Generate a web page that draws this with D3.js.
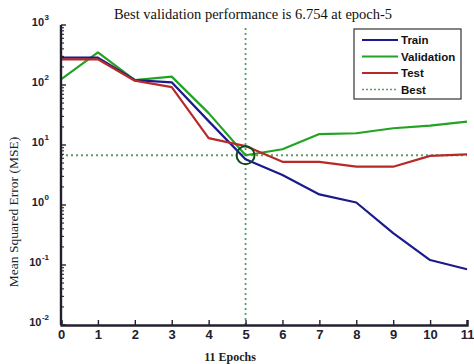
<!DOCTYPE html>
<html>
<head>
<meta charset="utf-8">
<script src="https://cdn.jsdelivr.net/npm/d3@7"></script>
<style>
  body { margin: 0; background: #fff; }
  svg { display: block; }
</style>
</head>
<body>
<svg id="chart" width="474" height="364"></svg>
<script>
"use strict";

// epochs and performance values
const epochs = [0, 1, 2, 3, 4, 5, 6, 7, 8, 9, 10, 11];
const trainMse = [285, 285, 121, 111, 25, 5.8, 3.16, 1.5, 1.1, 0.34, 0.121, 0.085];
const validMse = [124, 351, 121, 138, 34, 6.754, 8.5, 15.2, 15.7, 19, 21, 24.5];
const testMse = [268, 268, 118, 92, 13, 9.6, 5.25, 5.25, 4.35, 4.35, 6.6, 7.0];
const bestEpoch = 5;
const bestValue = 6.754;
const yTickExponents = [-2, -1, 0, 1, 2, 3];

const svg = d3.select("#chart");

// plot area
const x = d3.scaleLinear().domain([0, 11]).range([61, 467]);
const y = d3.scaleLog().domain([0.01, 1000]).range([325, 25]);

const axisColor = "#23202e";

// best marker lines (drawn first, under the curves)
svg.append("line")
    .attr("x1", x(0)).attr("x2", x(11))
    .attr("y1", y(bestValue)).attr("y2", y(bestValue))
    .attr("stroke", "#5f9a6a").attr("stroke-width", 1.8)
    .attr("stroke-dasharray", "2,3");
svg.append("line")
    .attr("x1", x(bestEpoch)).attr("x2", x(bestEpoch))
    .attr("y1", y(1000) + 3).attr("y2", y(0.01))
    .attr("stroke", "#5f9a6a").attr("stroke-width", 1.8)
    .attr("stroke-dasharray", "2,3");

// series lines
const series = [
    { name: "Train", values: trainMse, color: "#1a1a8c" },
    { name: "Validation", values: validMse, color: "#22a322" },
    { name: "Test", values: testMse, color: "#b82a2a" }
];

const line = d3.line()
    .x((d, i) => x(epochs[i]))
    .y(d => y(d));

// draw in the order validation, train, test like the picture
[series[1], series[0], series[2]].forEach(s => {
    svg.append("path")
        .datum(s.values)
        .attr("d", line)
        .attr("fill", "none")
        .attr("stroke", s.color)
        .attr("stroke-width", 2.2)
        .attr("stroke-linejoin", "round");
});

// circle round the best point
svg.append("circle")
    .attr("cx", x(bestEpoch)).attr("cy", y(bestValue))
    .attr("r", 9)
    .attr("fill", "none")
    .attr("stroke", "#0d4a16")
    .attr("stroke-width", 2);

// y axis (log) with minor ticks pointing inward
const yAxis = svg.append("g");
yAxis.append("line")
    .attr("x1", x(0)).attr("x2", x(0))
    .attr("y1", y(1000)).attr("y2", y(0.01))
    .attr("stroke", axisColor).attr("stroke-width", 2.4);

yTickExponents.forEach(e => {
    const v = Math.pow(10, e);
    yAxis.append("line")
        .attr("x1", x(0)).attr("x2", x(0) + 5)
        .attr("y1", y(v)).attr("y2", y(v))
        .attr("stroke", axisColor).attr("stroke-width", 1.4);
    if (e < 3) {
        for (let k = 2; k <= 9; k++) {
            yAxis.append("line")
                .attr("x1", x(0)).attr("x2", x(0) + 3)
                .attr("y1", y(k * v)).attr("y2", y(k * v))
                .attr("stroke", axisColor).attr("stroke-width", 1.1);
        }
    }
    const lbl = yAxis.append("text")
        .attr("x", 49).attr("y", y(v) + 1)
        .attr("text-anchor", "end")
        .attr("font-family", "Liberation Sans, Arial, sans-serif")
        .attr("font-weight", "bold")
        .attr("font-size", 11)
        .attr("fill", axisColor);
    lbl.append("tspan").text("10");
    lbl.append("tspan")
        .attr("font-size", 8)
        .attr("dy", -6)
        .attr("dx", 0.5)
        .text(e);
});

// x axis
const xAxis = svg.append("g")
    .attr("transform", "translate(0," + y(0.01) + ")")
    .call(d3.axisBottom(x).tickValues(epochs).tickSize(-5).tickPadding(5).tickFormat(d3.format("d")));
xAxis.select(".domain")
    .attr("stroke", axisColor).attr("stroke-width", 2.4);
xAxis.selectAll(".tick line")
    .attr("stroke", axisColor).attr("stroke-width", 1.4);
xAxis.selectAll(".tick text")
    .attr("font-family", "Liberation Sans, Arial, sans-serif")
    .attr("font-weight", "bold")
    .attr("font-size", 13)
    .attr("fill", axisColor);

// title and axis labels
svg.append("text")
    .attr("x", 253).attr("y", 19)
    .attr("text-anchor", "middle")
    .attr("font-family", "Liberation Serif, Times New Roman, serif")
    .attr("font-size", 14.5)
    .attr("fill", "#111")
    .text("Best validation performance is 6.754 at epoch-5");

svg.append("text")
    .attr("transform", "translate(18,212) rotate(-90)")
    .attr("text-anchor", "middle")
    .attr("font-family", "Liberation Serif, Times New Roman, serif")
    .attr("font-size", 13.5)
    .attr("fill", "#222")
    .text("Mean Squared Error (MSE)");

svg.append("text")
    .attr("x", 230).attr("y", 361)
    .attr("text-anchor", "middle")
    .attr("font-family", "Liberation Serif, Times New Roman, serif")
    .attr("font-weight", "bold")
    .attr("font-size", 12)
    .attr("fill", "#222")
    .text("11 Epochs");

// legend
const legend = svg.append("g");
legend.append("rect")
    .attr("x", 354).attr("y", 29)
    .attr("width", 107).attr("height", 70)
    .attr("fill", "#fff")
    .attr("stroke", "#333").attr("stroke-width", 1.2);

const legendItems = series.concat([{ name: "Best", color: "#5f9a6a", dash: "2,2" }]);
legendItems.forEach((s, i) => {
    const ly = 40 + i * 16.5;
    legend.append("line")
        .attr("x1", 362).attr("x2", 398)
        .attr("y1", ly).attr("y2", ly)
        .attr("stroke", s.color)
        .attr("stroke-width", s.dash ? 1.4 : 2.2)
        .attr("stroke-dasharray", s.dash || null);
    legend.append("text")
        .attr("x", 401).attr("y", ly + 4)
        .attr("font-family", "Liberation Sans, Arial, sans-serif")
        .attr("font-weight", "bold")
        .attr("font-size", 11.5)
        .attr("fill", "#111")
        .text(s.name);
});
</script>
</body>
</html>
